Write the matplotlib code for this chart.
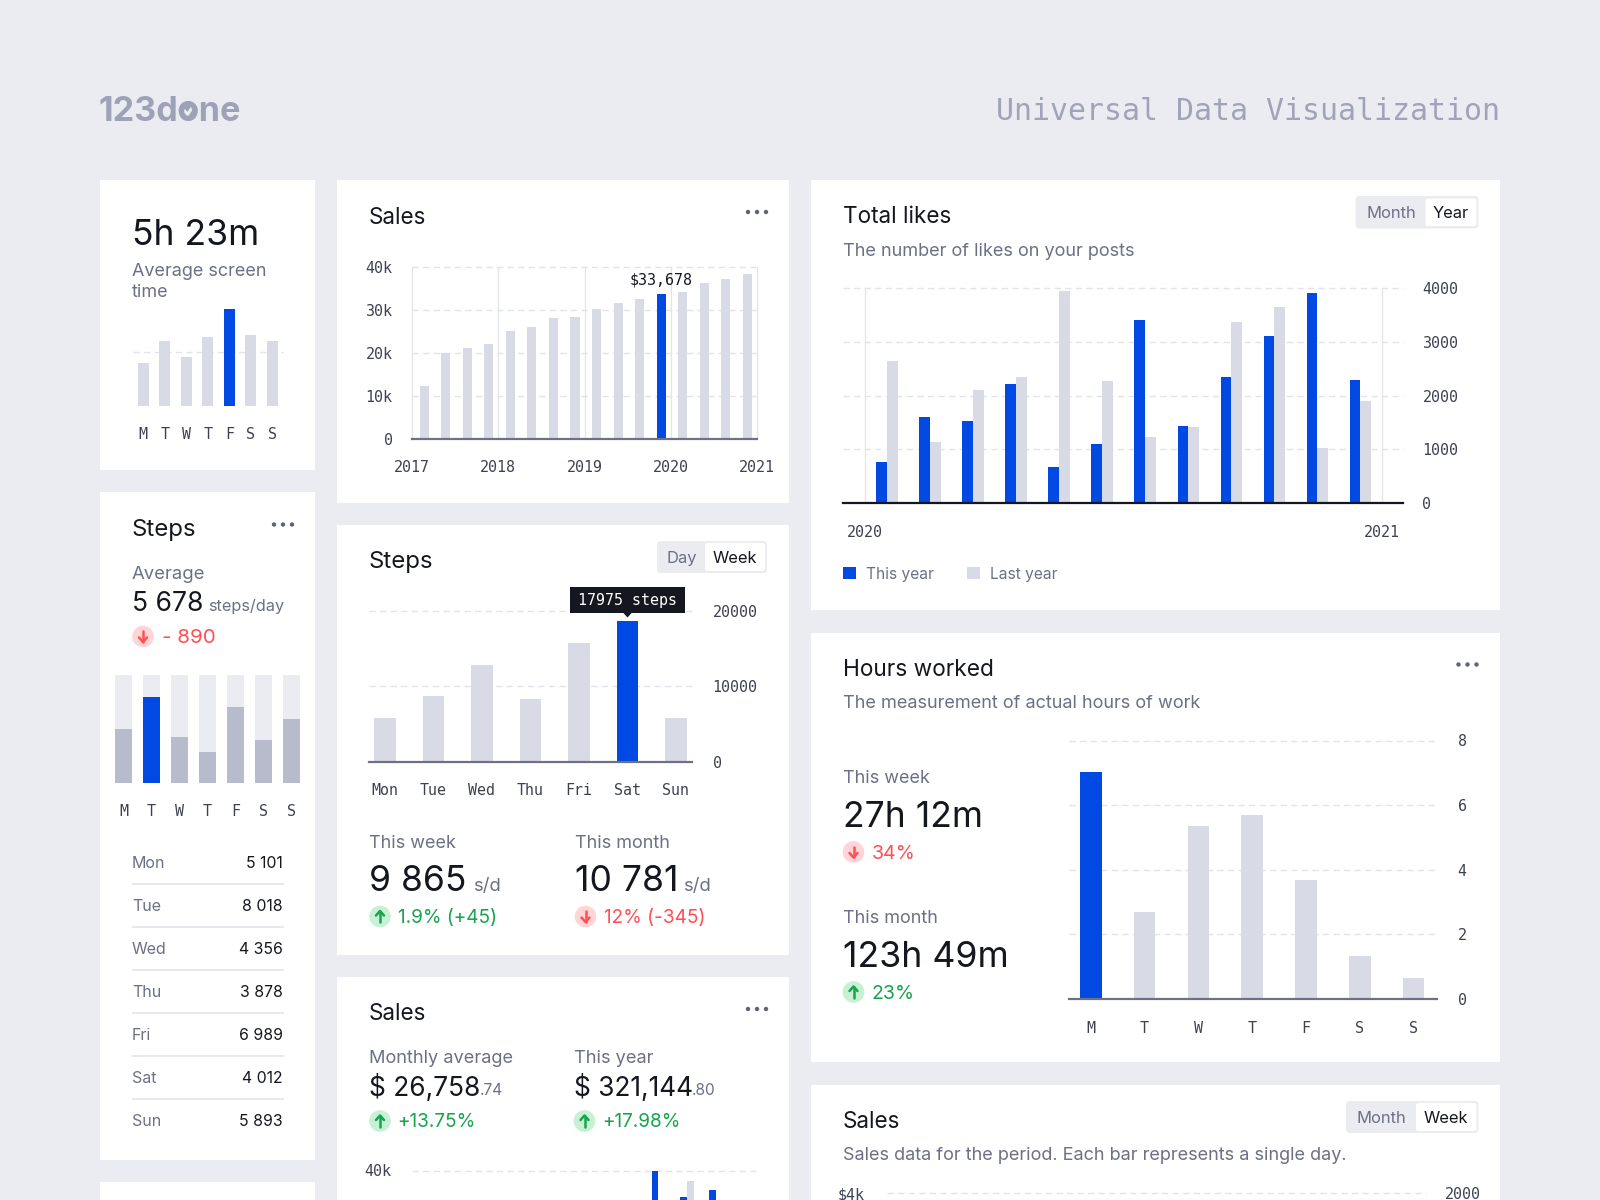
import matplotlib
matplotlib.use("Agg")
import matplotlib.pyplot as plt
from matplotlib.patches import Rectangle, FancyBboxPatch, Circle, Polygon

SANS = "Inter"
MONO = "DejaVu Sans Mono"
BG = "#EBECF2"
BLUE = "#0049E3"
GREY = "#D8DAE6"
DARKBAR = "#B8BBCB"
INK = "#14171F"
MUTED = "#6C7086"
TICK = "#3D4152"
GRID = "#E2E4ED"
RED = "#FF4F55"
GREEN = "#18A34F"
RED_BG = "#FFD5D7"
GREEN_BG = "#C8F0D4"

# ---- data ----
week_letters = ["M", "T", "W", "T", "F", "S", "S"]
week_short = ["Mon", "Tue", "Wed", "Thu", "Fri", "Sat", "Sun"]

screen_minutes = [143, 216, 162, 230, 323, 236, 216]

sales_years = [2017, 2018, 2019, 2020, 2021]
sales_quarter_x = [2017.14, 2017.39, 2017.64, 2017.89, 2018.14, 2018.39, 2018.64, 2018.89,
                   2019.14, 2019.39, 2019.64, 2019.89, 2020.14, 2020.39, 2020.64, 2020.89]
sales_quarterly = [12326, 20000, 21085, 22093, 25116, 25891, 28140, 28372,
                   30155, 31628, 32481, 33678, 34109, 36124, 37132, 38372]

likes_month_x = [2020 + (i + 0.5) / 12 for i in range(12)]
likes_this_year = [762, 1604, 1517, 2223, 663, 1102, 3400, 1424, 2341, 3102, 3901, 2297]
likes_last_year = [2638, 1133, 2099, 2341, 3938, 2266, 1226, 1406, 3362, 3641, 1015, 1901]

steps_bar_values = [5020, 8000, 4300, 2890, 7020, 4000, 5910]
steps_table_values = ["5 101", "8 018", "4 356", "3 878", "6 989", "4 012", "5 893"]

steps_week = [5732, 8720, 12866, 8293, 15732, 18600, 5732]

hours_worked = [7.01, 2.68, 5.35, 5.69, 3.67, 1.31, 0.64]

sales2_x_blue = [2019.816, 2020.15, 2020.486]
sales2_blue = [40000, 33900, 35465]
sales2_x_grey = [2020.227]
sales2_grey = [37490]

# ---- scaffolding ----
fig = plt.figure(figsize=(16, 12), dpi=100, facecolor=BG)


def full_axes(z):
    a = fig.add_axes([0, 0, 1, 1], zorder=z)
    a.set_xlim(0, 1600)
    a.set_ylim(1200, 0)
    a.axis("off")
    a.patch.set_alpha(0)
    return a


base = full_axes(0)
over = full_axes(5)


def chart_axes(x0, x1, ytop, ybot, xlim, ylim):
    a = fig.add_axes([x0 / 1600, 1 - ybot / 1200, (x1 - x0) / 1600, (ybot - ytop) / 1200], zorder=2)
    a.patch.set_alpha(0)
    a.set_xlim(*xlim)
    a.set_ylim(*ylim)
    for s in a.spines.values():
        s.set_visible(False)
    a.tick_params(length=0)
    a.set_axisbelow(True)
    return a


def ygrid(a, ticks, lw=1.0):
    for t in ticks:
        a.axhline(t, color=GRID, lw=lw, ls=(0, (4.6, 3)), zorder=0.5, clip_on=False)


def mono_ticks(labels, size=15, color=TICK, ha=None):
    for l in labels:
        l.set_fontfamily(MONO)
        l.set_fontsize(size * 0.72)
        l.set_color(color)
        if ha:
            l.set_ha(ha)


def txt(x, y, s, size, color=INK, ha="left", mono=False, weight="normal", ax=None):
    (ax or over).text(x, y + 0.36 * size, s, fontsize=size * 0.72, color=color, ha=ha, va="baseline",
                      family=MONO if mono else SANS, fontweight=weight)


def card(x0, x1, y0, y1):
    base.add_patch(Rectangle((x0, y0), x1 - x0, y1 - y0, fc="white", ec="none"))


def dots(xc, y):
    for dx in (-9, 0, 9):
        over.add_patch(Circle((xc + dx, y), 2.2, fc="#5F6377", ec="none"))


def badge(x, y, up):
    col, bg = (GREEN, GREEN_BG) if up else (RED, RED_BG)
    over.add_patch(Circle((x, y), 10.8, fc=bg, ec="none"))
    d = -1 if up else 1
    over.plot([x, x], [y - 5.5 * d, y + 5 * d], color=col, lw=1.8, solid_capstyle="round")
    over.plot([x - 4, x, x + 4], [y + 1 * d, y + 5.5 * d, y + 1 * d], color=col, lw=1.8,
              solid_capstyle="round", solid_joinstyle="round")


def toggle(x0, x1, y0, y1, wx0, wx1, wy0, wy1, a, ax_c, b, bx_c, yt):
    base.add_patch(FancyBboxPatch((x0 + 3, y0 + 3), x1 - x0 - 6, y1 - y0 - 6,
                                  boxstyle="round,pad=3,rounding_size=4", fc=BG, ec="none"))
    base.add_patch(FancyBboxPatch((wx0 + 1, wy0 + 1), wx1 - wx0 - 2, wy1 - wy0 - 2,
                                  boxstyle="round,pad=1,rounding_size=2", fc="white", ec="none"))
    txt(ax_c, yt, a, 16.5, MUTED, ha="center")
    txt(bx_c, yt, b, 16.5, INK, ha="center")


# ---- cards ----
card(100, 315, 180, 470)
card(100, 315, 492, 1160)
card(100, 315, 1182, 1200)
card(337, 789, 180, 503)
card(337, 789, 525, 955)
card(337, 789, 977, 1200)
card(811, 1500, 180, 610)
card(811, 1500, 633, 1062)
card(811, 1500, 1085, 1200)

# ---- header ----
txt(99, 108.5, "123done", 34.2, "#9EA2B6", weight="bold")
over.add_patch(Circle((188.2, 110.5), 9.6, fc="#9EA2B6", ec="none"))
over.plot([183.7, 187.7, 192.7], [110, 114.3, 106.7], color=BG, lw=2.2, solid_capstyle="round")
txt(1500, 109.5, "Universal Data Visualization", 29.9, "#A0A4B8", ha="right", mono=True)

# ---- card A: screen time ----
txt(132, 232, "5h 23m", 35.5)
txt(132, 270, "Average screen", 18, MUTED)
txt(132, 291, "time", 18, MUTED)
axA = chart_axes(132.6, 283, 309, 406, (-0.5, 6.49), (0, 323))
axA.set_xticks(range(7), week_letters)
axA.set_yticks([])
axA.tick_params(axis="x", pad=15)
mono_ticks(axA.get_xticklabels(), 15)
ygrid(axA, [180])
axA.bar(range(7), screen_minutes, width=0.51,
        color=[BLUE if i == 4 else GREY for i in range(7)], zorder=2)

# ---- card B: steps list ----
txt(131.5, 527.5, "Steps", 24)
dots(283, 524.5)
txt(131.5, 572.5, "Average", 18.5, MUTED)
txt(131.5, 601, "5 678", 26.5)
txt(208, 605, "steps/day", 16.3, MUTED)
badge(143, 636.5, False)
txt(162, 636, "- 890", 20.5, RED)

axB = chart_axes(109.5, 305.5, 675, 783, (-0.5, 6.5), (0, 10000))
axB.set_xticks(range(7), week_letters)
axB.set_yticks([])
axB.tick_params(axis="x", pad=15)
mono_ticks(axB.get_xticklabels(), 15)
axB.bar(range(7), [10000] * 7, width=0.62, color=BG, zorder=1)
axB.bar(range(7), steps_bar_values, width=0.62,
        color=[BLUE if i == 1 else DARKBAR for i in range(7)], zorder=2)

row_y = [862.5, 905.5, 948.5, 991.5, 1034.5, 1077.5, 1120.5]
for i, (d, v) in enumerate(zip(week_short, steps_table_values)):
    txt(132, row_y[i], d, 16, MUTED)
    txt(283, row_y[i], v, 15.8, INK, ha="right")
    if i < 6:
        over.plot([132.5, 283], [row_y[i] + 21, row_y[i] + 21], color="#E1E3EC", lw=1.2)

# ---- card D: sales per quarter ----
txt(368.5, 215.5, "Sales", 22.5)
dots(757, 212)
axD = chart_axes(412, 757, 266.7, 438.7, (2017, 2021), (0, 40000))
axD.set_xticks(sales_years, [str(y) for y in sales_years])
axD.set_yticks([0, 10000, 20000, 30000, 40000], ["0", "10k", "20k", "30k", "40k"])
axD.tick_params(axis="x", pad=15)
axD.tick_params(axis="y", pad=14)
mono_ticks(axD.get_xticklabels(), 15)
mono_ticks(axD.get_yticklabels(), 15)
ygrid(axD, [10000, 20000, 30000, 40000])
for y in sales_years:
    axD.axvline(y, color=GRID, lw=0.9, zorder=0.5, clip_on=False)
axD.bar(sales_quarter_x, sales_quarterly, width=0.105,
        color=[BLUE if i == 11 else GREY for i in range(16)], zorder=2)
axD.spines["bottom"].set_visible(True)
axD.spines["bottom"].set_color("#6E7182")
axD.spines["bottom"].set_linewidth(1.6)
txt(661.5, 279, "$33,678", 15, INK, ha="center", mono=True)

# ---- card E: steps week ----
txt(368.5, 559, "Steps", 24)
toggle(657, 767, 541, 573, 705, 765, 543, 571, "Day", 682, "Week", 735, 557)
axE = chart_axes(369, 691.8, 610.9, 761.5, (-0.33, 6.326), (0, 20000))
axE.set_xticks(range(7), week_short)
axE.yaxis.tick_right()
axE.set_yticks([0, 10000, 20000], ["0", "10000", "20000"])
axE.tick_params(axis="x", pad=15.5)
axE.tick_params(axis="y", pad=15)
mono_ticks(axE.get_xticklabels(), 15)
mono_ticks(axE.get_yticklabels(), 15)
ygrid(axE, [10000, 20000])
axE.bar(range(7), steps_week, width=0.45,
        color=[BLUE if i == 5 else GREY for i in range(7)], zorder=2)
axE.spines["bottom"].set_visible(True)
axE.spines["bottom"].set_color("#6E7182")
axE.spines["bottom"].set_linewidth(1.6)
over.add_patch(Rectangle((569.5, 587), 115, 26, fc=INK, ec="none"))
over.add_patch(Polygon([[622.5, 612], [632.5, 612], [627.5, 617.5]], fc=INK, ec="none"))
txt(627, 600, "17975 steps", 15, "white", ha="center", mono=True)

txt(369.3, 841.5, "This week", 18, MUTED)
txt(369.3, 878.5, "9 865", 35.4)
txt(473, 884.5, "s/d", 18.5, MUTED)
badge(380, 916.5, True)
txt(398, 916, "1.9% (+45)", 19, GREEN)
txt(575, 841.5, "This month", 18, MUTED)
txt(575, 878.5, "10 781", 35.5)
txt(683.5, 884.5, "s/d", 18.5, MUTED)
badge(585.5, 916.5, False)
txt(604, 916, "12% (-345)", 19, RED)

# ---- card F: sales summary ----
txt(368.5, 1012, "Sales", 22.5)
dots(757, 1009)
txt(369.3, 1056.5, "Monthly average", 18.2, MUTED)
txt(369.3, 1086.5, "$ 26,758", 26.3)
txt(480, 1089, ".74", 15.5, MUTED)
badge(380, 1121, True)
txt(397.5, 1120.5, "+13.75%", 19, GREEN)
txt(573.5, 1056.5, "This year", 18.2, MUTED)
txt(573.5, 1086.5, "$ 321,144", 26.3)
txt(691.5, 1089, ".80", 15.5, MUTED)
badge(584.5, 1121, True)
txt(602.5, 1120.5, "+17.98%", 19, GREEN)
axF = chart_axes(412, 757, 1170.5, 1342.5, (2017, 2021), (0, 40000))
axF.set_xticks([])
axF.set_yticks([40000], ["40k"])
axF.tick_params(axis="y", pad=15)
mono_ticks(axF.get_yticklabels(), 15)
ygrid(axF, [40000])
axF.bar(sales2_x_blue, sales2_blue, width=0.0765, color=BLUE, zorder=2)
axF.bar(sales2_x_grey, sales2_grey, width=0.0765, color=GREY, zorder=2)

# ---- card G: total likes ----
txt(843, 215, "Total likes", 22.5)
txt(843, 249.5, "The number of likes on your posts", 18.1, MUTED)
toggle(1355.5, 1478.5, 196, 228.5, 1425.5, 1476.5, 198.5, 226, "Month", 1391, "Year", 1450.5, 212.5)
x_per_year = 1382 - 865.3
axG = chart_axes(843, 1403, 288, 503,
                 (2020 - (865.3 - 843) / x_per_year, 2021 + (1403 - 1382) / x_per_year), (0, 4000))
axG.set_xticks([2020, 2021], ["2020", "2021"])
axG.yaxis.tick_right()
axG.set_yticks([0, 1000, 2000, 3000, 4000], ["0", "1000", "2000", "3000", "4000"])
axG.tick_params(axis="x", pad=15.5)
axG.tick_params(axis="y", pad=14)
mono_ticks(axG.get_xticklabels(), 15)
mono_ticks(axG.get_yticklabels(), 15)
ygrid(axG, [1000, 2000, 3000, 4000])
for y in (2020, 2021):
    axG.axvline(y, color=GRID, lw=0.9, zorder=0.5, clip_on=False)
bw = 10.7 / x_per_year
axG.bar([x - bw / 2 for x in likes_month_x], likes_this_year, width=bw, color=BLUE, zorder=2, label="This year")
axG.bar([x + bw / 2 for x in likes_month_x], likes_last_year, width=bw, color=GREY, zorder=2, label="Last year")
axG.spines["bottom"].set_visible(True)
axG.spines["bottom"].set_color(INK)
axG.spines["bottom"].set_linewidth(1.6)
over.add_patch(Rectangle((843, 566.7), 13, 12.6, fc=BLUE, ec="none"))
txt(866.5, 573, "This year", 15.5, MUTED)
over.add_patch(Rectangle((967, 566.7), 13, 12.6, fc=GREY, ec="none"))
txt(990.5, 573, "Last year", 15.5, MUTED)

# ---- card H: hours worked ----
txt(843, 668, "Hours worked", 22.7)
txt(843, 701.5, "The measurement of actual hours of work", 18.1, MUTED)
dots(1467.5, 664.5)
txt(843, 777, "This week", 18, MUTED)
txt(843, 814, "27h 12m", 35.5)
badge(853.5, 852, False)
txt(871.5, 852, "34%", 19.5, RED)
txt(843, 917, "This month", 18, MUTED)
txt(843, 954, "123h 49m", 35.7)
badge(853.5, 992, True)
txt(871.5, 992, "23%", 19.5, GREEN)
axH = chart_axes(1069, 1436.7, 740.5, 998.7, (-0.405, 6.43), (0, 8))
axH.set_xticks(range(7), week_letters)
axH.yaxis.tick_right()
axH.set_yticks([0, 2, 4, 6, 8], ["0", "2", "4", "6", "8"])
axH.tick_params(axis="x", pad=16)
axH.tick_params(axis="y", pad=15)
mono_ticks(axH.get_xticklabels(), 15)
mono_ticks(axH.get_yticklabels(), 15)
ygrid(axH, [2, 4, 6, 8])
axH.bar(range(7), hours_worked, width=0.4,
        color=[BLUE if i == 0 else GREY for i in range(7)], zorder=2)
axH.spines["bottom"].set_visible(True)
axH.spines["bottom"].set_color("#6E7182")
axH.spines["bottom"].set_linewidth(1.6)

# ---- card I: sales daily ----
txt(843, 1119.5, "Sales", 22.5)
txt(843, 1153, "Sales data for the period. Each bar represents a single day.", 18.1, MUTED)
toggle(1346, 1478.5, 1101, 1133, 1416, 1476.5, 1103, 1131, "Month", 1381.5, "Week", 1446, 1117)
axI = chart_axes(886.7, 1425.5, 1193, 1300, (0, 1), (0, 2000))
axI.set_xticks([])
axI.set_yticks([2000], ["$4k"])
axI.tick_params(axis="y", pad=16)
mono_ticks(axI.get_yticklabels(), 15)
ygrid(axI, [2000])
axI2 = axI.twinx()
axI2.set_ylim(0, 2000)
for s in axI2.spines.values():
    s.set_visible(False)
axI2.tick_params(length=0, pad=14)
axI2.set_yticks([2000], ["2000"])
mono_ticks(axI2.get_yticklabels(), 15)

fig.savefig("out.png", dpi=100)
